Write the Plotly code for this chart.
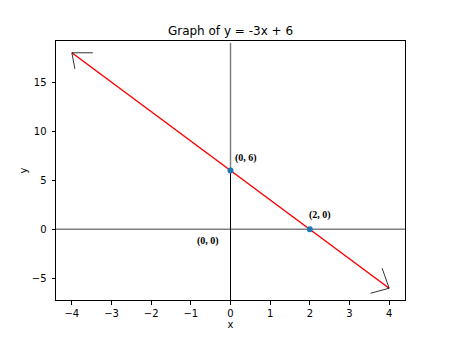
import plotly.graph_objects as go

# Data
line_x = [-4, 4]
line_y = [18, -6]
pt_x = [0, 2]
pt_y = [6, 0]
pt_labels = ["(0, 6)", "(2, 0)"]
origin_label = "(0, 0)"
x_ticks = [-4, -3, -2, -1, 0, 1, 2, 3, 4]
y_ticks = [-5, 0, 5, 10, 15]
x_range = [-4.4, 4.4]
y_range = [-7.2, 19.2]
title = "Graph of y = -3x + 6"

fig = go.Figure()

# grey axis lines
fig.add_shape(type="line", xref="paper", yref="y", x0=0, x1=1, y0=0, y1=0,
              line=dict(color="#808080", width=1.5), layer="below")
fig.add_shape(type="line", xref="x", yref="y", x0=0, x1=0, y0=19.0, y1=pt_y[0],
              line=dict(color="#808080", width=1.5), layer="below")
fig.add_shape(type="line", xref="x", yref="paper", x0=0, x1=0, y0=0, y1=(pt_y[0] - y_range[0]) / (y_range[1] - y_range[0]),
              line=dict(color="black", width=1), layer="below")

fig.add_trace(go.Scatter(x=line_x, y=line_y, mode="lines",
                         line=dict(color="red", width=1.5), showlegend=False, hoverinfo="skip"))
fig.add_trace(go.Scatter(x=pt_x, y=pt_y, mode="markers",
                         marker=dict(color="#1f77b4", size=6), showlegend=False))

# arrowheads at the line ends
fig.add_shape(type="path", xref="x", yref="y", xsizemode="pixel", ysizemode="pixel",
              xanchor=line_x[0], yanchor=line_y[0],
              path="M 21 0 L 0 0 L 3 -16", line=dict(color="black", width=0.8))
fig.add_shape(type="path", xref="x", yref="y", xsizemode="pixel", ysizemode="pixel",
              xanchor=line_x[1], yanchor=line_y[1],
              path="M -18.5 -5 L 0 0 L -7 20", line=dict(color="black", width=0.8))

lab_font = dict(family="Liberation Serif", size=10, color="black")
fig.add_annotation(x=pt_x[0], y=pt_y[0], text="<b>%s</b>" % pt_labels[0], showarrow=False,
                   xanchor="left", yanchor="middle", xshift=2, yshift=13, font=lab_font)
fig.add_annotation(x=pt_x[1], y=pt_y[1], text="<b>%s</b>" % pt_labels[1], showarrow=False,
                   xanchor="left", yanchor="middle", xshift=-3, yshift=14, font=lab_font)
fig.add_annotation(x=0, y=0, text="<b>%s</b>" % origin_label, showarrow=False,
                   xanchor="right", yanchor="middle", xshift=-10, yshift=-12, font=lab_font)

axis_common = dict(showline=True, mirror=True, linecolor="black", linewidth=1,
                   ticks="outside", ticklen=3.5, tickcolor="black", tickwidth=1,
                   showgrid=False, zeroline=False, automargin=False,
                   tickfont=dict(family="DejaVu Sans", size=10, color="black"))
fig.update_xaxes(range=x_range, tickvals=x_ticks, ticklabelstandoff=0,
                 title=dict(text="x", font=dict(family="DejaVu Sans", size=10, color="black"), standoff=1), **axis_common)
fig.update_yaxes(range=y_range, tickvals=y_ticks, ticklabelstandoff=3,
                 title=dict(text="y", font=dict(family="DejaVu Sans", size=10, color="black"), standoff=2), **axis_common)

fig.update_layout(
    width=450, height=337,
    margin=dict(l=56, r=45, t=41, b=37),
    paper_bgcolor="white", plot_bgcolor="white",
    title=dict(text=title, x=0.5, xref="paper", xanchor="center", y=1, yref="paper", yanchor="bottom",
               pad=dict(b=6), font=dict(family="DejaVu Sans", size=12, color="black")),
)

fig.write_html("out.html")
